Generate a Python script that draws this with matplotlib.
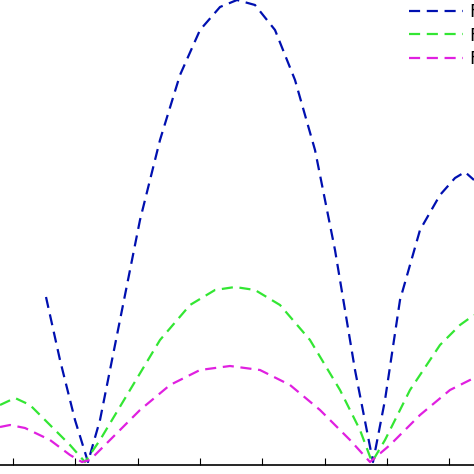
import numpy as np
import matplotlib.pyplot as plt

# curve samples (x in tick units, y in arbitrary units)
blue_px = [(46,297),(60,360),(75,420),(88,462),(100,420),(120,320),(140,220),(160,140),(180,75),
           (200,30),(220,7),(237,0),(255,5),(275,30),(295,80),(315,150),(335,250),(355,370),(373,462),
           (385,400),(400,300),(420,230),(440,195),(455,178),(465,172),(474,180)]
green_px = [(0,405),(15,398),(30,405),(50,425),(70,445),(85,462),(100,440),(130,390),(160,340),(190,305),
            (215,290),(235,287),(255,290),(280,305),(310,340),(340,390),(360,430),(372,462),(385,440),
            (410,390),(440,345),(460,325),(474,315)]
magenta_px = [(0,427),(10,425),(25,428),(50,440),(70,455),(82,462),(90,460),(110,440),(140,410),(170,385),
              (200,370),(230,366),(260,370),(290,385),(320,410),(350,440),(370,462),(390,445),(420,415),
              (450,390),(474,378)]

def conv(pts):
    a = np.array(pts, float)
    return (a[:, 0] - 13) / 62.3, (465 - a[:, 1]) / 100

fig = plt.figure(figsize=(4.74, 4.74), dpi=100)
ax = fig.add_axes([0, 9/474, 1, 465/474])
for pts, c, lab in [(blue_px, '#0010b0', 'F1'), (green_px, '#33e633', 'F2'), (magenta_px, '#e020e0', 'F3')]:
    x, y = conv(pts)
    ax.plot(x, y, '--', color=c, lw=1.6, dashes=(5, 3), label=lab)

ax.set_xlim(-13/62.3, 461/62.3)
ax.set_ylim(0, 4.65)
ax.set_xticks(range(8))
ax.set_xticklabels([])
ax.set_yticks([])
ax.tick_params(axis='x', direction='in', length=5)
for s in ['top', 'right', 'left']:
    ax.spines[s].set_visible(False)
ax.spines['bottom'].set_linewidth(1.2)
ax.legend(loc='upper left', bbox_to_anchor=(393/474, 1.0 + 13/474), bbox_transform=fig.transFigure,
          frameon=False, handlelength=3.0, fontsize=13, labelspacing=0.3, handletextpad=0.3)
fig.savefig('out.png', dpi=100)
